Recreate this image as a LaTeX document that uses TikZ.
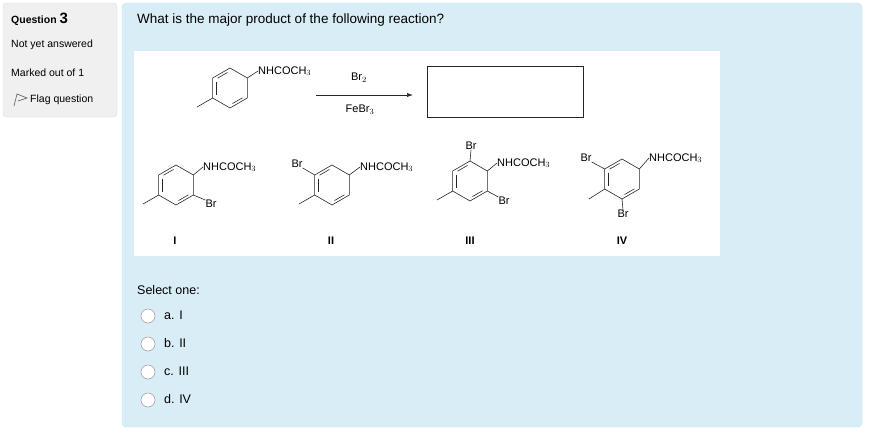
\documentclass[tikz,border=0pt]{standalone}
\usepackage{fontspec}
\setmainfont{Liberation Sans}
\usetikzlibrary{arrows.meta}
\definecolor{qblue}{HTML}{D9EDF7}
\definecolor{qborder}{HTML}{BCE8F1}
\definecolor{ggrey}{HTML}{F0F0F0}
\definecolor{gborder}{HTML}{DDDDDD}
\newcommand\benz[2]{%
\begin{scope}[shift={(#1,#2)}]
\draw[bond] (0,-20)--(17.32,-10)--(17.32,10)--(0,20)--(-17.32,10)--(-17.32,-10)--cycle;
\draw[bond] (-2.6,-15.5)--(-12.5,-9.8);
\draw[bond] (-13.6,-6.5)--(-13.6,6.5);
\draw[bond] (12.5,9.8)--(2.6,15.5);
\end{scope}}
\tikzset{bond/.style={line width=0.6pt,black!85},
 chem/.style={inner sep=0pt,font=\fontsize{11}{12}\selectfont},
 side/.style={anchor=west,inner sep=0pt,font=\fontsize{10.5}{12}\selectfont},
 radio/.style={circle,draw=black!35,fill=white,minimum size=14pt,inner sep=0pt,line width=0.6pt},
 opt/.style={anchor=west,inner sep=0pt,font=\fontsize{12.5}{14}\selectfont}}
\begin{document}
\begin{tikzpicture}[x=1pt,y=-1pt]
\useasboundingbox (0,0) rectangle (869,439);
\fill[white] (0,0) rectangle (869,439);
% left info panel
\draw[gborder,fill=ggrey,rounded corners=3pt] (3,3) rectangle (117,117);
\node[side] (q) at (11,19) {\textbf{\fontsize{10.5}{12}\selectfont Question} {\fontsize{15}{16}\selectfont\textbf{3}}};
\node[side] (nya) at (11,45) {Not yet answered};
\node[side] (mo) at (11,73) {Marked out of 1};
\node[side] (fq) at (30,100) {Flag question};
\draw[black!60,line width=0.7pt] (14,106)--(17,94)--(27,98)--(18,101);
% main panel
\draw[qborder,fill=qblue,rounded corners=4pt] (122,3) rectangle (862,427);
\node[anchor=west,inner sep=0pt,font=\fontsize{13.5}{15}\selectfont] (title) at (137,20) {What is the major product of the following reaction?};
\fill[white] (134,51) rectangle (720,256);
% reactant
\benz{230}{88}
\node[chem,anchor=west] (r1) at (258,71) {NHCOCH$_3$};
\draw[bond] (247.3,78)--(r1.west);
\coordinate (rm) at (197,107);
\draw[bond] (212.7,98)--(rm);
\node[chem] (br2) at (359,78) {Br$_2$};
\node[chem] (febr) at (360,110) {FeBr$_3$};
\coordinate (a1) at (316,95); \coordinate (a2) at (413,95);
\draw[bond,-{Latex[length=6pt,width=4pt]}] (a1)--(a2);
\node[draw=black!85,line width=0.7pt,minimum width=156pt,minimum height=51pt,inner sep=0pt] (box) at (505,91.5) {};
% I
\benz{176}{185}
\node[chem,anchor=west] (i1) at (203,167) {NHCOCH$_3$};
\draw[bond] (193.3,175)--(i1.west);
\node[chem] (ibr) at (211,204) {Br};
\draw[bond] (193.3,195)--(ibr.north west);
\coordinate (im) at (143,204);
\draw[bond] (158.7,195)--(im);
\node[chem,font=\fontsize{11}{12}\selectfont\bfseries] (lI) at (175,241) {I};
% II
\benz{332}{185}
\node[chem,anchor=west] (ii1) at (360,167) {NHCOCH$_3$};
\draw[bond] (349.3,175)--(ii1.west);
\node[chem] (iibr) at (297,164) {Br};
\draw[bond] (314.7,175)--(iibr.south east);
\coordinate (iim) at (299,204);
\draw[bond] (314.7,195)--(iim);
\node[chem,font=\fontsize{11}{12}\selectfont\bfseries] (lII) at (331,241) {II};
% III
\benz{470}{181}
\node[chem,anchor=west] (iii1) at (497,163) {NHCOCH$_3$};
\draw[bond] (487.3,171)--(iii1.west);
\node[chem] (iiibt) at (471,146) {Br};
\draw[bond] (470,161)--(iiibt.south);
\node[chem] (iiibr) at (504,201) {Br};
\draw[bond] (487.3,191)--(iiibr.north west);
\coordinate (iiim) at (437,200);
\draw[bond] (452.7,191)--(iiim);
\node[chem,font=\fontsize{11}{12}\selectfont\bfseries] (lIII) at (470,241) {III};
% IV
\benz{622}{179}
\node[chem,anchor=west] (iv1) at (649,158) {NHCOCH$_3$};
\draw[bond] (639.3,169)--(iv1.west);
\node[chem] (ivbl) at (586,158) {Br};
\draw[bond] (604.7,169)--(ivbl.south east);
\node[chem] (ivbb) at (623,214) {Br};
\draw[bond] (622,199)--(ivbb.north);
\coordinate (ivm) at (589,199);
\draw[bond] (604.7,189)--(ivm);
\node[chem,font=\fontsize{11}{12}\selectfont\bfseries] (lIV) at (622,241) {IV};
% options
\node[opt] (sel) at (137,290) {Select one:};
\node[radio] (ra) at (148,316) {}; \node[opt] (ta) at (164,315) {a. I};
\node[radio] (rb) at (148,344) {}; \node[opt] (tb) at (164,343) {b. II};
\node[radio] (rc) at (148,372) {}; \node[opt] (tc) at (164,371) {c. III};
\node[radio] (rd) at (148,400) {}; \node[opt] (td) at (164,399) {d. IV};
\end{tikzpicture}
\end{document}
